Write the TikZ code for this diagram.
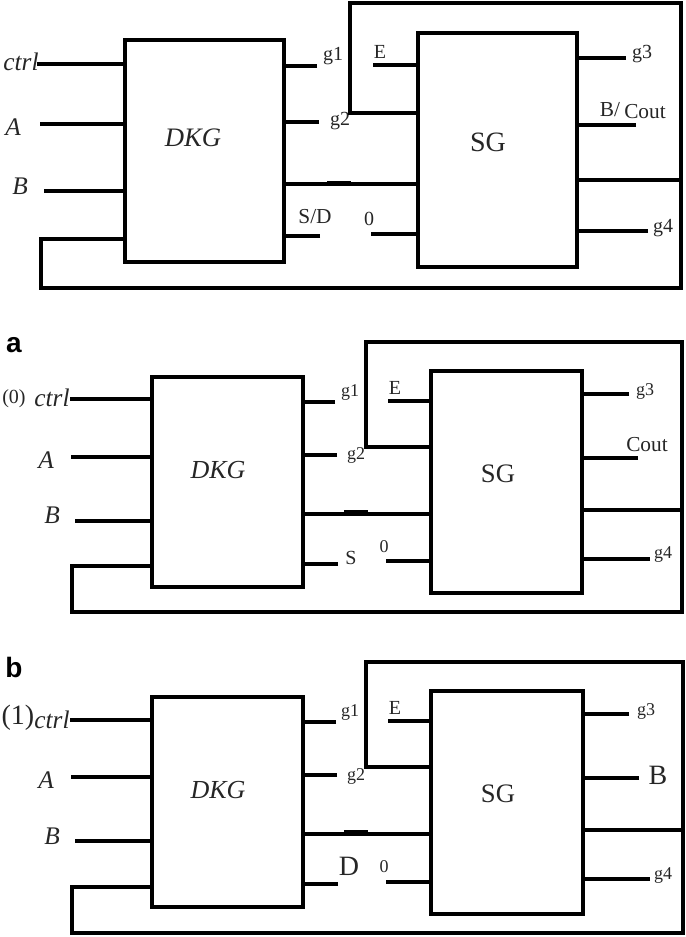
\documentclass[tikz,border=0pt]{standalone}
\usepackage{fontspec}
\setmainfont{Liberation Serif}
\newfontfamily\panelfont{Liberation Sans}
\usetikzlibrary{fit}
\tikzset{
  box/.style={draw=black,line width=2.4pt,inner sep=0pt,outer sep=0pt,fill=none},
  wire/.style={draw=black,line width=2.3pt,line join=miter},
  lab/.style={inner sep=0pt,text=black!85},
  mainl/.style={lab,font=\fontsize{15}{15}\selectfont},
  widel/.style={lab,font=\fontsize{16}{16}\selectfont},
  subl/.style={lab,font=\fontsize{13.5}{13.5}\selectfont},
  bigl/.style={lab,font=\fontsize{21}{21}\selectfont},
  sgl/.style={lab,font=\fontsize{21}{21}\selectfont},
  sgsl/.style={lab,font=\fontsize{20}{20}\selectfont},
  dkgl/.style={lab,font=\fontsize{20}{20}\itshape\selectfont},
  dkgsl/.style={lab,font=\fontsize{19.5}{19.5}\itshape\selectfont},
  inl/.style={lab,font=\fontsize{19}{19}\itshape\selectfont},
  panel/.style={inner sep=0pt,font=\fontsize{21}{21}\bfseries\panelfont\selectfont}
}
\newcommand{\stub}[3]{\draw[wire] (#1) -- (#1 -| #2.#3);}
\begin{document}
\begin{tikzpicture}[x=0.75pt,y=-0.75pt]
\useasboundingbox (0,0) rectangle (685,937);
% ---------- top panel
\node[box,fit={(125,40)(284,262)}] (dkg) {};
\node[box,fit={(418,33)(577,267)}] (sg) {};
\node[dkgl] (tdkg) at (193,138) {DKG};
\node[sgl] (tsg) at (488,142) {SG};
\coordinate (ictrl) at (37,64); \coordinate (ia) at (40,124); \coordinate (ib) at (44,191);
\stub{ictrl}{dkg}{west} \stub{ia}{dkg}{west} \stub{ib}{dkg}{west}
\node[inl] (lctrl) at (21,62) {ctrl};
\node[inl] (la) at (13,127) {A};
\node[inl] (lb) at (20,186) {B};
\coordinate (og1) at (317,66); \coordinate (og2) at (319,122); \coordinate (osd) at (320,236);
\stub{og1}{dkg}{east} \stub{og2}{dkg}{east} \stub{osd}{dkg}{east}
\node[mainl] (lg1) at (333,56) {g1};
\node[mainl] (lg2) at (340,121) {g2};
\node[widel] (lsd) at (315,217) {S/D};
\coordinate (mid) at (350,184);
\draw[wire] (mid -| dkg.east) -- (mid -| sg.west);
\coordinate (tka) at (327,183); \coordinate (tkb) at (351,183);
\draw[wire] (tka) -- (tkb);
\coordinate (ie) at (373,65); \coordinate (iz) at (371,234);
\stub{ie}{sg}{west} \stub{iz}{sg}{west}
\node[mainl] (le) at (380,52) {E};
\node[mainl] (lz) at (369,219) {0};
\coordinate (og3) at (626,58); \coordinate (oc) at (636,125); \coordinate (og4) at (648,231);
\stub{og3}{sg}{east} \stub{oc}{sg}{east} \stub{og4}{sg}{east}
\node[mainl] (lg3) at (642,54) {g3};
\node[widel] (lbs) at (610,110) {B/};
\node[widel] (lc) at (645,112) {Cout};
\node[mainl] (lg4) at (663,228) {g4};
\coordinate (fb) at (41,239); \coordinate (fc) at (41,288); \coordinate (fd) at (681,288);
\coordinate (fe) at (681,3); \coordinate (ff) at (350,3); \coordinate (fg) at (350,113);
\draw[wire] (fb -| dkg.west) -- (fb) -- (fc) -- (fd) -- (fe) -- (ff) -- (fg) -- (fg -| sg.west);
\coordinate (rr) at (681,180); \stub{rr}{sg}{east}
% ---------- panel a
\node[panel] (pa) at (14,345) {a};
\node[box,fit={(152,377)(303,587)}] (dkga) {};
\node[box,fit={(431,371)(582,593)}] (sga) {};
\node[dkgsl] (tdkga) at (218,470) {DKG};
\node[sgsl] (tsga) at (498,474) {SG};
\coordinate (ictrla) at (70,399); \coordinate (iaa) at (71,457); \coordinate (iba) at (75,521);
\stub{ictrla}{dkga}{west} \stub{iaa}{dkga}{west} \stub{iba}{dkga}{west}
\node[mainl] (lza) at (14,399) {(0)};
\node[inl] (lctrla) at (52,398) {ctrl};
\node[inl] (laa) at (46,460) {A};
\node[inl] (lba) at (52,515) {B};
\coordinate (og1a) at (335,402); \coordinate (og2a) at (337,455); \coordinate (osa) at (338,564);
\stub{og1a}{dkga}{east} \stub{og2a}{dkga}{east} \stub{osa}{dkga}{east}
\node[subl] (lg1a) at (350,392) {g1};
\node[subl] (lg2a) at (356,455) {g2};
\node[mainl] (lsa) at (351,558) {S};
\coordinate (mida) at (366,514);
\draw[wire] (mida -| dkga.east) -- (mida -| sga.west);
\coordinate (tkaa) at (344,512); \coordinate (tkba) at (368,512);
\draw[wire] (tkaa) -- (tkba);
\coordinate (iea) at (388,401); \coordinate (iza) at (386,561);
\stub{iea}{sga}{west} \stub{iza}{sga}{west}
\node[mainl] (lea) at (395,388) {E};
\node[subl] (lzb) at (384,547) {0};
\coordinate (og3a) at (629,394); \coordinate (oca) at (638,458); \coordinate (og4a) at (650,559);
\stub{og3a}{sga}{east} \stub{oca}{sga}{east} \stub{og4a}{sga}{east}
\node[subl] (lg3a) at (645,391) {g3};
\node[widel] (lca) at (647,445) {Cout};
\node[subl] (lg4a) at (663,555) {g4};
\coordinate (fba) at (72,566); \coordinate (fca) at (72,612); \coordinate (fda) at (682,612);
\coordinate (fea) at (682,342); \coordinate (ffa) at (366,342); \coordinate (fga) at (366,447);
\draw[wire] (fba -| dkga.west) -- (fba) -- (fca) -- (fda) -- (fea) -- (ffa) -- (fga) -- (fga -| sga.west);
\coordinate (rra) at (682,510); \stub{rra}{sga}{east}
% ---------- panel b
\node[panel] (pb) at (14,667) {b};
\node[box,fit={(152,697)(303,907)}] (dkgb) {};
\node[box,fit={(431,691)(583,914)}] (sgb) {};
\node[dkgsl] (tdkgb) at (218,790) {DKG};
\node[sgsl] (tsgb) at (498,794) {SG};
\coordinate (ictrlb) at (70,720); \coordinate (iab) at (71,777); \coordinate (ibb) at (75,841);
\stub{ictrlb}{dkgb}{west} \stub{iab}{dkgb}{west} \stub{ibb}{dkgb}{west}
\node[bigl] (loneb) at (18,718) {(1)};
\node[inl] (lctrlb) at (52,720) {ctrl};
\node[inl] (lab) at (46,780) {A};
\node[inl] (lbb) at (52,836) {B};
\coordinate (og1b) at (336,722); \coordinate (og2b) at (337,775); \coordinate (odb) at (338,884);
\stub{og1b}{dkgb}{east} \stub{og2b}{dkgb}{east} \stub{odb}{dkgb}{east}
\node[subl] (lg1b) at (350,712) {g1};
\node[subl] (lg2b) at (356,776) {g2};
\node[bigl] (ldb) at (349,866) {D};
\coordinate (midb) at (366,834);
\draw[wire] (midb -| dkgb.east) -- (midb -| sgb.west);
\coordinate (tkab) at (344,832); \coordinate (tkbb) at (368,832);
\draw[wire] (tkab) -- (tkbb);
\coordinate (ieb) at (388,721); \coordinate (izb) at (386,882);
\stub{ieb}{sgb}{west} \stub{izb}{sgb}{west}
\node[mainl] (leb) at (395,708) {E};
\node[subl] (lzc) at (384,867) {0};
\coordinate (og3b) at (629,714); \coordinate (ocb) at (639,778); \coordinate (og4b) at (650,879);
\stub{og3b}{sgb}{east} \stub{ocb}{sgb}{east} \stub{og4b}{sgb}{east}
\node[subl] (lg3b) at (646,711) {g3};
\node[bigl] (lbbb) at (658,775) {B};
\node[subl] (lg4b) at (663,876) {g4};
\coordinate (fbb) at (72,887); \coordinate (fcb) at (72,933); \coordinate (fdb) at (683,933);
\coordinate (feb) at (683,662); \coordinate (ffb) at (366,662); \coordinate (fgb) at (366,767);
\draw[wire] (fbb -| dkgb.west) -- (fbb) -- (fcb) -- (fdb) -- (feb) -- (ffb) -- (fgb) -- (fgb -| sgb.west);
\coordinate (rrb) at (683,830); \stub{rrb}{sgb}{east}
\end{tikzpicture}
\end{document}
